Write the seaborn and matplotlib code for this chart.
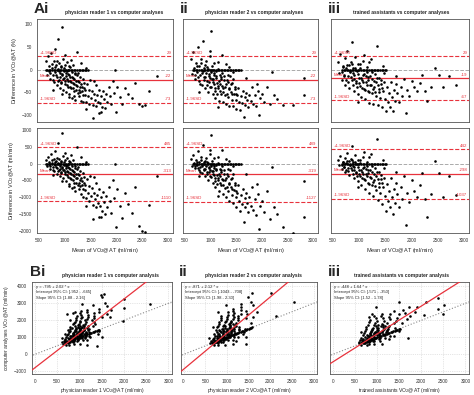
import numpy as np
import pandas as pd
import seaborn as sns
import matplotlib.pyplot as plt

# ---- data: mean of VO2@AT (ml/min) and difference reader - computer (ml/min)
mean_r1 = [640, 660, 680, 700, 710, 730, 740, 760, 770, 790, 800, 810, 820, 840, 850, 860, 870, 880, 890, 900,
           910, 920, 930, 940, 950, 955, 965, 975, 985, 995, 1005, 1015, 1025, 1035, 1045, 1055, 1065, 1075, 1085, 1095,
           1105, 1115, 1125, 1135, 1145, 1155, 1165, 1175, 1185, 1195, 1210, 1220, 1235, 1250, 1255, 1265, 1280, 1290, 1300, 1315,
           1325, 1340, 1355, 1365, 1380, 1395, 1405, 1420, 1435, 1450, 1465, 1480, 1495, 1505, 1520, 1540, 1550, 1565, 1580, 1600,
           1610, 1625, 1640, 1655, 1665, 1680, 1700, 1720, 1740, 1760, 1780, 1800, 1825, 1850, 1875, 1900, 1930, 1960, 2000, 2010,
           2060, 2110, 2160, 2220, 2300, 2360, 2430, 2500, 2560, 2620, 2780, 1980, 1120, 1320, 1010, 780, 950, 1180, 1080, 1560,
           1700, 1420]
diff_r1 = [120, -80, 200, -20, 60, -150, 280, 30, -90, 150, -220, -40, 380, 90, -130, -300, 20, 600, -200, 140,
           -60, -380, 70, -260, 900, -120, 230, -440, -30, -180, 100, -320, -80, -520, 170, -230, -400, -20, -140, -600,
           -290, 60, -460, -180, -720, -340, 120, -560, -250, -80, -820, -420, -160, 500, -640, -310, -760, -500, -220, -900,
           -420, -640, -280, -980, -560, -780, 60, -1020, -460, -860, -660, -1120, -360, -960, -720, -1220, -1650, -860, -1060, -560,
           -1300, -920, -1160, -1580, -760, -1260, -1000, -1420, -840, -1140, -1500, -960, -1300, -700, -1100, -1460, -480, -1020, -1870, -760,
           -1250, -1600, -880, -1200, -1460, -700, -1860, -2010, -2020, -1230, -380, -20, 250, 190, 330, -350, -520, -700, -650, -400,
           -1580, -1250]
core_mean_r1 = [720, 750, 780, 810, 830, 855, 865, 895, 905, 925, 935, 945, 970, 990, 1000, 1020, 1040, 1050, 1060, 1070,
                1090, 1100, 1110, 1130, 1140, 1160, 1170, 1190, 1200, 1215, 1230, 1245, 1260, 1275, 1285, 1305, 1330, 1350, 1370, 1390]
core_diff_r1 = [-60, 100, -180, 40, -100, 170, -220, -20, -150, -280, 60, -90, -200, 40, -260, -140, -30, -350, -100, -260,
                80, -420, -170, -300, -60, -480, -230, -380, -120, -560, -300, -440, -100, -580, -350, -660, -520, -750, -400, -620]
zero_r1 = [640, 670, 700, 730, 760, 790, 820, 850, 880, 910, 940, 970, 1000, 1030, 1060, 1090, 1120, 1150, 1180, 1210,
           1240, 1270, 1300, 1330, 1360, 1390, 1420, 1450]

mean_r2 = [620, 650, 670, 690, 710, 730, 745, 760, 775, 790, 805, 820, 835, 850, 860, 875, 890, 900, 915, 925,
           940, 950, 960, 970, 985, 995, 1005, 1015, 1025, 1035, 1045, 1055, 1065, 1075, 1085, 1095, 1105, 1115, 1125, 1135,
           1145, 1155, 1170, 1180, 1190, 1200, 1215, 1230, 1240, 1250, 1265, 1280, 1295, 1310, 1325, 1340, 1355, 1370, 1385, 1400,
           1415, 1430, 1445, 1460, 1475, 1490, 1505, 1520, 1540, 1555, 1570, 1590, 1610, 1630, 1650, 1665, 1680, 1700, 1720, 1740,
           1760, 1780, 1800, 1830, 1860, 1890, 1920, 1950, 1960, 2000, 2050, 2100, 2190, 2240, 2300, 2420, 2600, 2810, 2810, 1700,
           1300, 1450, 1150, 1900, 2150, 780, 1000, 1360]
diff_r2 = [150, -60, 260, 20, -140, 110, -40, 380, -200, 60, -90, 200, -280, -20, 540, -150, 90, -360, -70, 180,
           -240, -480, 20, -130, 300, -380, -60, 860, -220, 80, -560, -300, -120, 160, -440, -700, -200, -40, -600, -330,
           200, -480, -820, -150, -380, -640, -260, 400, -900, -500, -180, -720, -420, -1000, -300, -820, -560, -1100, -200, -680,
           -940, -420, -1180, -780, -560, -1000, -1300, -860, -640, -1100, -1400, -920, -1200, -760, -1720, -1020, -1300, -880, -1160, -1450,
           -1000, -1250, -700, -1380, -1060, -1520, -900, -1940, -1250, -1100, -1450, -800, -110, -1280, -1500, -1880, -2060, -1570, -520, -300,
           150, -80, -950, -600, -1650, -380, 420, 80]
core_mean_r2 = [700, 735, 765, 795, 815, 840, 870, 880, 905, 930, 945, 965, 980, 1000, 1010, 1030, 1050, 1070, 1080, 1100,
                1120, 1140, 1150, 1175, 1185, 1205, 1220, 1235, 1255, 1270, 1290, 1315, 1335, 1345, 1365, 1395, 1420, 1440, 1470, 1500]
core_diff_r2 = [-80, 60, -120, -250, 120, -60, -200, 40, -150, -320, 60, -260, -100, -180, -400, -20, -230, -340, -80, -520,
                -160, -420, 20, -300, -560, -200, -450, -80, -620, -300, -500, -700, -380, -150, -600, -460, -760, -300, -640, -820]
zero_r2 = [660, 690, 720, 750, 780, 810, 840, 870, 900, 930, 960, 990, 1020, 1050, 1080, 1110, 1140, 1170, 1200, 1230,
           1260, 1290, 1320, 1350, 1380, 1410, 1440, 1470, 1500, 1530, 1560, 1590]

mean_r3 = [600, 630, 650, 670, 690, 710, 730, 745, 760, 775, 790, 805, 820, 835, 850, 860, 870, 885, 900, 915,
           930, 945, 960, 975, 990, 1000, 1015, 1030, 1045, 1060, 1075, 1090, 1105, 1120, 1135, 1150, 1165, 1180, 1195, 1210,
           1225, 1240, 1255, 1270, 1285, 1300, 1315, 1330, 1350, 1360, 1375, 1390, 1405, 1420, 1440, 1455, 1470, 1490, 1510, 1530,
           1550, 1570, 1590, 1610, 1630, 1650, 1670, 1690, 1710, 1730, 1760, 1790, 1820, 1860, 1890, 1920, 1960, 2000, 2040, 2100,
           2160, 2200, 2250, 2300, 2360, 2440, 2520, 2600, 2710, 2840, 1200, 980, 1700, 1450, 1100]
diff_r3 = [100, -50, 230, -150, 40, -90, 180, -260, 20, 320, -120, 80, -340, -30, 150, 530, -200, 40, -420, -100,
           260, -280, -20, -520, 120, -180, -360, 30, -640, -240, 200, -460, -100, -740, -320, 60, -560, -200, -880, -400,
           300, -640, -260, -960, -500, -140, -780, -360, 720, -1080, -580, -260, -880, -460, -1200, -700, -120, -960, -1400, -600,
           -1120, -820, -1300, -440, -1000, -1500, -760, -1180, -560, -900, -1280, -680, -1050, -380, -1810, -860, -1150, -500, -800, -1000,
           -620, -280, -1050, -1590, -900, 90, -280, -1000, -375, -940, 200, -700, -250, 100, 350]
core_mean_r3 = [680, 700, 725, 755, 780, 800, 825, 845, 865, 880, 895, 910, 925, 950, 965, 985, 1005, 1020, 1040, 1055,
                1070, 1085, 1110, 1125, 1145, 1160, 1175, 1190, 1215, 1235, 1250, 1265, 1290, 1310, 1340, 1365, 1385, 1410, 1430, 1480]
core_diff_r3 = [-40, 60, -100, -180, 80, -220, -50, -140, 100, -300, -60, -180, 40, -240, -380, -90, -300, 120, -200, -440,
                -120, -300, -500, -160, -380, -60, -280, -600, -180, -420, -80, -540, -320, -660, -240, -460, -700, -340, -580, -420]
zero_r3 = [680, 710, 740, 770, 800, 830, 860, 890, 920, 950, 980, 1010, 1040, 1070, 1100, 1130, 1160, 1190, 1220, 1250,
           1280, 1310, 1340, 1370, 1400, 1430, 1460, 1490, 1520]

# Bland-Altman lines: +1.96SD, mean, -1.96SD
pct_lines = [[29, -22, -73], [29, -22, -73], [29, -19, -67]]
abs_lines = [[485, -313, -1110], [489, -319, -1127], [442, -298, -1037]]

# Passing-Bablok regression (intercept, slope) and CI text
reg_coef = [[-795, 2.02], [-871, 2.12], [-448, 1.64]]
reg_text = [["y = -795 + 2.02 * x", "Intercept 95% CI: [-952 - -645]", "Slope 95% CI: [1.88 - 2.16]"],
            ["y = -871 + 2.12 * x", "Intercept 95% CI: [-1043 - -708]", "Slope 95% CI: [1.98 - 2.30]"],
            ["y = -448 + 1.64 * x", "Intercept 95% CI: [-571 - -350]", "Slope 95% CI: [1.52 - 1.78]"]]

col_tags = ["i", "ii", "iii"]
ba_titles = ["physician reader 1 vs computer analyses", "physician reader 2 vs computer analyses",
             "trained assistants vs computer analyses"]
sc_titles = ["physician reader 1 vs computer analysis", "physician reader 2 vs computer analysis",
             "trained assistants vs computer analysis"]
sc_xlabels = ["physician reader 1 VO$_2$@AT (ml/min)", "physician reader 2 VO$_2$@AT (ml/min)",
              "trained assistants VO$_2$@AT (ml/min)"]

readers = []
for m, d, cm, cd, z in [(mean_r1, diff_r1, core_mean_r1, core_diff_r1, zero_r1),
                        (mean_r2, diff_r2, core_mean_r2, core_diff_r2, zero_r2),
                        (mean_r3, diff_r3, core_mean_r3, core_diff_r3, zero_r3)]:
    df = pd.DataFrame({"mean": m + cm + z, "diff": d + cd + [0] * len(z)})
    df["pct"] = df["diff"] / df["mean"] * 100
    df["reader"] = df["mean"] + df["diff"] / 2
    df["computer"] = df["mean"] - df["diff"] / 2
    readers.append(df)

sns.set_style("white")
plt.rcParams["font.family"] = ["Liberation Sans", "DejaVu Sans"]

RED = "#e8323c"
fig = plt.figure(figsize=(4.74, 3.95), dpi=100)

W, H = 474, 395
def axes_px(x0, y0, x1, y1):
    return fig.add_axes([x0 / W, 1 - y1 / H, (x1 - x0) / W, (y1 - y0) / H])

cols_ba = [(37, 173), (183, 318), (331, 469)]
cols_sc = [(32, 172), (181, 317), (330, 469)]

def style(ax):
    for s in ax.spines.values():
        s.set_color("#555555")
        s.set_linewidth(0.6)
    ax.tick_params(length=2, width=0.5, labelsize=3.4, pad=1.5, colors="#333333")

def bland(ax, df, ycol, lines, ylim, yticks):
    ax.axhline(0, color="#aaaaaa", ls="--", lw=0.7, zorder=1)
    ax.axhline(lines[0], color=RED, ls="--", lw=0.8, zorder=1)
    ax.axhline(lines[1], color=RED, ls="-", lw=0.9, zorder=1)
    ax.axhline(lines[2], color=RED, ls="--", lw=0.8, zorder=1)
    sns.scatterplot(data=df, x="mean", y=ycol, ax=ax, color="black", s=3.5, linewidth=0, zorder=3, legend=False)
    ax.set_xlim(470, 3090)
    ax.set_ylim(*ylim)
    ax.set_xticks([500, 1000, 1500, 2000, 2500, 3000])
    ax.set_yticks(yticks)
    span = ylim[1] - ylim[0]
    for lab, v in zip(["+1.96SD", "Mean", "-1.96SD"], lines):
        ax.text(520, v + span * 0.012, lab, color=RED, fontsize=3.2, va="bottom", ha="left")
        ax.text(3060, v + span * 0.012, f"{v}", color=RED, fontsize=3.2, va="bottom", ha="right")
    ax.set_xlabel("")
    ax.set_ylabel("")
    style(ax)

for i in range(3):
    x0, x1 = cols_ba[i]
    ax1 = axes_px(x0, 19, x1, 122)
    bland(ax1, readers[i], "pct", pct_lines[i], (-116, 112), [-100, -50, 0, 50, 100])
    ax1.set_xticklabels([])
    ax2 = axes_px(x0, 128, x1, 233)
    bland(ax2, readers[i], "diff", abs_lines[i], (-2060, 1060), [-2000, -1500, -1000, -500, 0, 500, 1000])
    ax2.set_xlabel("Mean of VO$_2$@AT (ml/min)", fontsize=4, labelpad=2)
    if i == 0:
        ax1.set_ylabel("Difference in VO$_2$@AT (%)", fontsize=4, labelpad=2)
        ax2.set_ylabel("Difference in VO$_2$@AT (ml/min)", fontsize=4, labelpad=2)
    else:
        ax1.set_yticklabels([])
        ax2.set_yticklabels([])

    # scatter row
    sx0, sx1 = cols_sc[i]
    ax3 = axes_px(sx0, 282, sx1, 374)
    ax3.grid(True, ls=":", color="#cccccc", lw=0.5)
    xs = np.array([-100, 3200])
    a, b = reg_coef[i]
    ax3.plot(xs, xs, color="#888888", ls=":", lw=0.8, zorder=1)
    ax3.plot(xs, a + b * xs, color=RED, lw=0.9, zorder=4)
    sns.scatterplot(data=readers[i], x="reader", y="computer", ax=ax3, color="black", s=3.5,
                    linewidth=0, zorder=3, legend=False)
    ax3.set_xlim(-60, 3080)
    ax3.set_ylim(-1150, 4250)
    ax3.set_xticks([0, 500, 1000, 1500, 2000, 2500, 3000])
    ax3.set_yticks([-1000, 0, 1000, 2000, 3000, 4000])
    ax3.text(0.03, 0.97, "\n".join(reg_text[i]), transform=ax3.transAxes, fontsize=3.0,
             va="top", ha="left", linespacing=1.5, color="#222222")
    ax3.set_xlabel(sc_xlabels[i], fontsize=3.6, labelpad=1.5)
    if i == 0:
        ax3.set_ylabel("computer analyses VO$_2$@AT (ml/min)", fontsize=3.6, labelpad=2)
    else:
        ax3.set_ylabel("")
        ax3.set_yticklabels([])
    style(ax3)

    # panel tags and titles
    lead_a = "A" if i == 0 else ""
    lead_b = "B" if i == 0 else ""
    fig.text((x0 - 3) / W, 1 - 16 / H, lead_a + col_tags[i], fontsize=11, fontweight="bold", va="bottom")
    fig.text((x0 + 22 + (6 if i == 0 else 0)) / W, 1 - 15 / H, ba_titles[i], fontsize=3.6, fontweight="bold", va="bottom")
    fig.text((sx0 - 2) / W, 1 - 279 / H, lead_b + col_tags[i], fontsize=11, fontweight="bold", va="bottom")
    fig.text((sx0 + 24 + (6 if i == 0 else 0)) / W, 1 - 278 / H, sc_titles[i], fontsize=3.6, fontweight="bold", va="bottom")

fig.savefig("out.png", dpi=100)
